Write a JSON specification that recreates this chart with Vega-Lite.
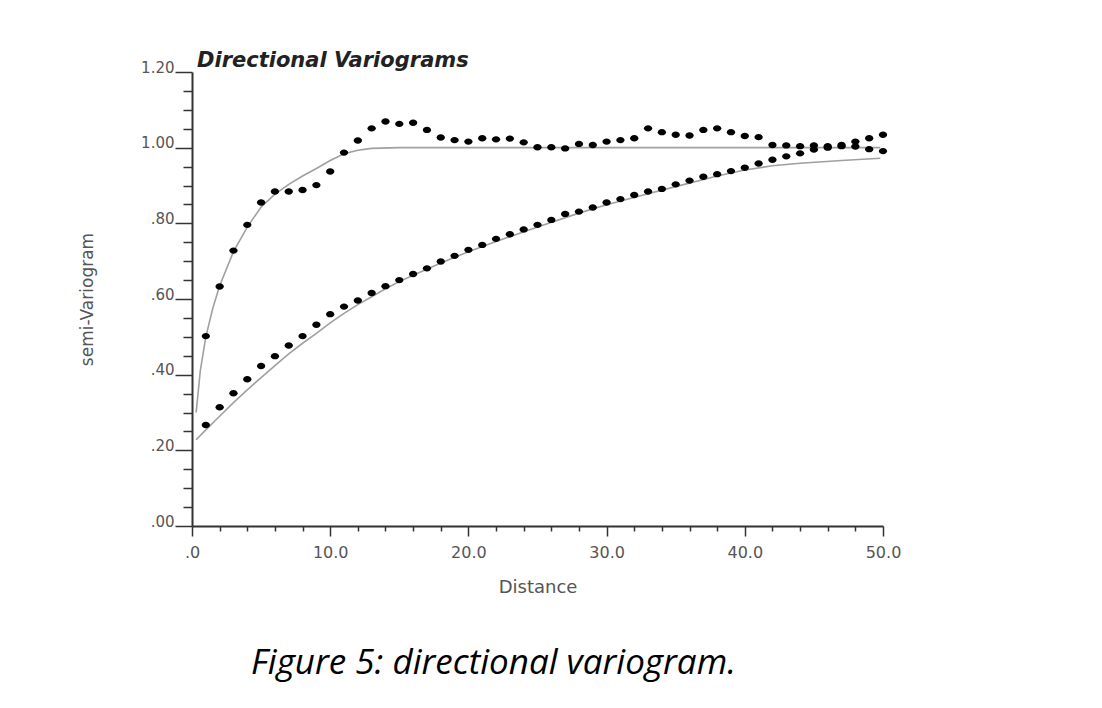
{
  "$schema": "https://vega.github.io/schema/vega-lite/v6.json",
  "width": 691,
  "height": 454,
  "autosize": {"type": "none"},
  "padding": {"left": 192, "top": 72, "right": 219, "bottom": 182},
  "background": "white",
  "config": {
    "view": {"stroke": null},
    "font": "DejaVu Sans",
    "axis": {"labelOverlap": false, "labelBound": false}
  },
  "title": {
    "text": "Figure 5: directional variogram.",
    "orient": "bottom",
    "anchor": "middle",
    "font": "Open Sans",
    "fontStyle": "italic",
    "fontWeight": "normal",
    "fontSize": 35,
    "color": "#000000",
    "offset": 50,
    "dx": -44
  },
  "datasets": {
    "obs": [
      {"lag": 1, "gamma": 0.502, "dir": "A"}, {"lag": 2, "gamma": 0.633, "dir": "A"}, {"lag": 3, "gamma": 0.728, "dir": "A"},
      {"lag": 4, "gamma": 0.796, "dir": "A"}, {"lag": 5, "gamma": 0.855, "dir": "A"}, {"lag": 6, "gamma": 0.884, "dir": "A"},
      {"lag": 7, "gamma": 0.884, "dir": "A"}, {"lag": 8, "gamma": 0.888, "dir": "A"}, {"lag": 9, "gamma": 0.901, "dir": "A"},
      {"lag": 10, "gamma": 0.937, "dir": "A"}, {"lag": 11, "gamma": 0.987, "dir": "A"}, {"lag": 12, "gamma": 1.019, "dir": "A"},
      {"lag": 13, "gamma": 1.051, "dir": "A"}, {"lag": 14, "gamma": 1.069, "dir": "A"}, {"lag": 15, "gamma": 1.063, "dir": "A"},
      {"lag": 16, "gamma": 1.066, "dir": "A"}, {"lag": 17, "gamma": 1.047, "dir": "A"}, {"lag": 18, "gamma": 1.027, "dir": "A"},
      {"lag": 19, "gamma": 1.020, "dir": "A"}, {"lag": 20, "gamma": 1.016, "dir": "A"}, {"lag": 21, "gamma": 1.025, "dir": "A"},
      {"lag": 22, "gamma": 1.022, "dir": "A"}, {"lag": 23, "gamma": 1.024, "dir": "A"}, {"lag": 24, "gamma": 1.014, "dir": "A"},
      {"lag": 25, "gamma": 1.001, "dir": "A"}, {"lag": 26, "gamma": 1.001, "dir": "A"}, {"lag": 27, "gamma": 0.998, "dir": "A"},
      {"lag": 28, "gamma": 1.010, "dir": "A"}, {"lag": 29, "gamma": 1.007, "dir": "A"}, {"lag": 30, "gamma": 1.016, "dir": "A"},
      {"lag": 31, "gamma": 1.020, "dir": "A"}, {"lag": 32, "gamma": 1.025, "dir": "A"}, {"lag": 33, "gamma": 1.051, "dir": "A"},
      {"lag": 34, "gamma": 1.041, "dir": "A"}, {"lag": 35, "gamma": 1.034, "dir": "A"}, {"lag": 36, "gamma": 1.032, "dir": "A"},
      {"lag": 37, "gamma": 1.047, "dir": "A"}, {"lag": 38, "gamma": 1.051, "dir": "A"}, {"lag": 39, "gamma": 1.041, "dir": "A"},
      {"lag": 40, "gamma": 1.031, "dir": "A"}, {"lag": 41, "gamma": 1.028, "dir": "A"}, {"lag": 42, "gamma": 1.007, "dir": "A"},
      {"lag": 43, "gamma": 1.006, "dir": "A"}, {"lag": 44, "gamma": 1.004, "dir": "A"}, {"lag": 45, "gamma": 1.006, "dir": "A"},
      {"lag": 46, "gamma": 1.004, "dir": "A"}, {"lag": 47, "gamma": 1.007, "dir": "A"}, {"lag": 48, "gamma": 1.016, "dir": "A"},
      {"lag": 49, "gamma": 1.025, "dir": "A"}, {"lag": 50, "gamma": 1.034, "dir": "A"},
      {"lag": 1, "gamma": 0.267, "dir": "B"}, {"lag": 2, "gamma": 0.314, "dir": "B"}, {"lag": 3, "gamma": 0.351, "dir": "B"},
      {"lag": 4, "gamma": 0.388, "dir": "B"}, {"lag": 5, "gamma": 0.423, "dir": "B"}, {"lag": 6, "gamma": 0.449, "dir": "B"},
      {"lag": 7, "gamma": 0.477, "dir": "B"}, {"lag": 8, "gamma": 0.502, "dir": "B"}, {"lag": 9, "gamma": 0.532, "dir": "B"},
      {"lag": 10, "gamma": 0.560, "dir": "B"}, {"lag": 11, "gamma": 0.580, "dir": "B"}, {"lag": 12, "gamma": 0.596, "dir": "B"},
      {"lag": 13, "gamma": 0.616, "dir": "B"}, {"lag": 14, "gamma": 0.634, "dir": "B"}, {"lag": 15, "gamma": 0.650, "dir": "B"},
      {"lag": 16, "gamma": 0.666, "dir": "B"}, {"lag": 17, "gamma": 0.681, "dir": "B"}, {"lag": 18, "gamma": 0.699, "dir": "B"},
      {"lag": 19, "gamma": 0.714, "dir": "B"}, {"lag": 20, "gamma": 0.730, "dir": "B"}, {"lag": 21, "gamma": 0.743, "dir": "B"},
      {"lag": 22, "gamma": 0.759, "dir": "B"}, {"lag": 23, "gamma": 0.771, "dir": "B"}, {"lag": 24, "gamma": 0.784, "dir": "B"},
      {"lag": 25, "gamma": 0.796, "dir": "B"}, {"lag": 26, "gamma": 0.809, "dir": "B"}, {"lag": 27, "gamma": 0.825, "dir": "B"},
      {"lag": 28, "gamma": 0.831, "dir": "B"}, {"lag": 29, "gamma": 0.842, "dir": "B"}, {"lag": 30, "gamma": 0.855, "dir": "B"},
      {"lag": 31, "gamma": 0.864, "dir": "B"}, {"lag": 32, "gamma": 0.875, "dir": "B"}, {"lag": 33, "gamma": 0.884, "dir": "B"},
      {"lag": 34, "gamma": 0.891, "dir": "B"}, {"lag": 35, "gamma": 0.903, "dir": "B"}, {"lag": 36, "gamma": 0.913, "dir": "B"},
      {"lag": 37, "gamma": 0.923, "dir": "B"}, {"lag": 38, "gamma": 0.930, "dir": "B"}, {"lag": 39, "gamma": 0.938, "dir": "B"},
      {"lag": 40, "gamma": 0.947, "dir": "B"}, {"lag": 41, "gamma": 0.958, "dir": "B"}, {"lag": 42, "gamma": 0.968, "dir": "B"},
      {"lag": 43, "gamma": 0.977, "dir": "B"}, {"lag": 44, "gamma": 0.985, "dir": "B"}, {"lag": 45, "gamma": 0.995, "dir": "B"},
      {"lag": 46, "gamma": 1.000, "dir": "B"}, {"lag": 47, "gamma": 1.004, "dir": "B"}, {"lag": 48, "gamma": 1.003, "dir": "B"},
      {"lag": 49, "gamma": 0.996, "dir": "B"}, {"lag": 50, "gamma": 0.991, "dir": "B"}
    ],
    "model": [
      {"lag": 0.3, "gamma": 0.30, "dir": "A"}, {"lag": 0.6, "gamma": 0.41, "dir": "A"}, {"lag": 1, "gamma": 0.50, "dir": "A"},
      {"lag": 1.5, "gamma": 0.575, "dir": "A"}, {"lag": 2, "gamma": 0.635, "dir": "A"}, {"lag": 3, "gamma": 0.725, "dir": "A"},
      {"lag": 4, "gamma": 0.79, "dir": "A"}, {"lag": 5, "gamma": 0.843, "dir": "A"}, {"lag": 6, "gamma": 0.877, "dir": "A"},
      {"lag": 7, "gamma": 0.903, "dir": "A"}, {"lag": 8, "gamma": 0.925, "dir": "A"}, {"lag": 9, "gamma": 0.945, "dir": "A"},
      {"lag": 10, "gamma": 0.966, "dir": "A"}, {"lag": 11, "gamma": 0.984, "dir": "A"}, {"lag": 12, "gamma": 0.993, "dir": "A"},
      {"lag": 13, "gamma": 0.998, "dir": "A"}, {"lag": 15, "gamma": 1.0, "dir": "A"}, {"lag": 49.8, "gamma": 1.0, "dir": "A"},
      {"lag": 0.3, "gamma": 0.228, "dir": "B"}, {"lag": 1, "gamma": 0.254, "dir": "B"}, {"lag": 2, "gamma": 0.29, "dir": "B"},
      {"lag": 3, "gamma": 0.326, "dir": "B"}, {"lag": 4, "gamma": 0.36, "dir": "B"}, {"lag": 5, "gamma": 0.392, "dir": "B"},
      {"lag": 6, "gamma": 0.424, "dir": "B"}, {"lag": 7, "gamma": 0.455, "dir": "B"}, {"lag": 8, "gamma": 0.483, "dir": "B"},
      {"lag": 9, "gamma": 0.509, "dir": "B"}, {"lag": 10, "gamma": 0.537, "dir": "B"}, {"lag": 11, "gamma": 0.562, "dir": "B"},
      {"lag": 12, "gamma": 0.585, "dir": "B"}, {"lag": 13, "gamma": 0.606, "dir": "B"}, {"lag": 14, "gamma": 0.627, "dir": "B"},
      {"lag": 15, "gamma": 0.646, "dir": "B"}, {"lag": 16, "gamma": 0.663, "dir": "B"}, {"lag": 18, "gamma": 0.695, "dir": "B"},
      {"lag": 20, "gamma": 0.725, "dir": "B"}, {"lag": 22, "gamma": 0.752, "dir": "B"}, {"lag": 25, "gamma": 0.79, "dir": "B"},
      {"lag": 28, "gamma": 0.827, "dir": "B"}, {"lag": 30, "gamma": 0.849, "dir": "B"}, {"lag": 33, "gamma": 0.878, "dir": "B"},
      {"lag": 35, "gamma": 0.897, "dir": "B"}, {"lag": 38, "gamma": 0.925, "dir": "B"}, {"lag": 40, "gamma": 0.941, "dir": "B"},
      {"lag": 42, "gamma": 0.952, "dir": "B"}, {"lag": 44, "gamma": 0.959, "dir": "B"}, {"lag": 47, "gamma": 0.966, "dir": "B"},
      {"lag": 49.8, "gamma": 0.972, "dir": "B"}
    ],
    "heading": [{"text": "Directional Variograms"}]
  },
  "layer": [
    {
      "data": {"name": "model"},
      "mark": {"type": "line", "color": "#a0a0a0", "strokeWidth": 1.6},
      "encoding": {
        "x": {
          "field": "lag", "type": "quantitative",
          "scale": {"domain": [0, 50], "nice": false, "zero": true},
          "axis": {
            "title": "Distance",
            "values": [0,2,4,6,8,10,12,14,16,18,20,22,24,26,28,30,32,34,36,38,40,42,44,46,48,50],
            "tickCount": 200,
            "labelExpr": "datum.value % 10 === 0 ? (datum.value === 0 ? '.0' : format(datum.value, '.1f')) : ''",
            "grid": false,
            "domainColor": "#333333", "domainWidth": 2,
            "tickColor": "#333333", "tickWidth": 1.5,
            "tickSize": {"condition": {"test": "datum.value % 10 === 0", "value": 10}, "value": 5},
            "labelFont": "DejaVu Sans", "labelFontSize": 16, "labelColor": "#555555",
            "labelPadding": 8, "labelFlush": false, "labelOverlap": false,
            "titleFont": "DejaVu Sans", "titleFontSize": 18, "titleFontWeight": "normal", "titleColor": "#555555",
            "titlePadding": 18
          }
        },
        "y": {
          "field": "gamma", "type": "quantitative",
          "scale": {"domain": [0, 1.2], "nice": false, "zero": true},
          "axis": {
            "title": "semi-Variogram",
            "values": [0,0.05,0.1,0.15,0.2,0.25,0.3,0.35,0.4,0.45,0.5,0.55,0.6,0.65,0.7,0.75,0.8,0.85,0.9,0.95,1.0,1.05,1.1,1.15,1.2],
            "tickCount": 200,
            "labelExpr": "abs(datum.value*5 - round(datum.value*5)) < 0.001 ? (datum.value < 1 ? slice(format(datum.value, '.2f'), 1) : format(datum.value, '.2f')) : ''",
            "grid": false,
            "domainColor": "#333333", "domainWidth": 2,
            "tickColor": "#333333", "tickWidth": 1.5,
            "tickSize": {"condition": {"test": "abs(datum.value*5 - round(datum.value*5)) < 0.001", "value": 17}, "value": 9},
            "labelFont": "DejaVu Sans", "labelFontSize": 15, "labelColor": "#555555",
            "labelBaseline": "alphabetic", "labelPadding": 1, "labelFlush": false, "labelOverlap": false,
            "titleFont": "DejaVu Sans", "titleFontSize": 17, "titleFontWeight": "normal", "titleColor": "#555555",
            "titlePadding": 44
          }
        },
        "detail": {"field": "dir"}
      }
    },
    {
      "data": {"name": "obs"},
      "mark": {"type": "point", "filled": true, "color": "#000000", "opacity": 1, "size": 48,
               "shape": "M-1.2,0A1.2,0.92,0,1,1,1.2,0A1.2,0.92,0,1,1,-1.2,0Z"},
      "encoding": {
        "x": {"field": "lag", "type": "quantitative"},
        "y": {"field": "gamma", "type": "quantitative"}
      }
    },
    {
      "data": {"name": "heading"},
      "mark": {"type": "text", "align": "left", "baseline": "alphabetic", "dx": 5, "dy": -5, "font": "DejaVu Sans", "fontSize": 21, "fontWeight": "bold", "fontStyle": "italic", "color": "#222222"},
      "encoding": {
        "x": {"datum": 0, "type": "quantitative"},
        "y": {"datum": 1.2, "type": "quantitative"},
        "text": {"field": "text"}
      }
    }
  ]
}
